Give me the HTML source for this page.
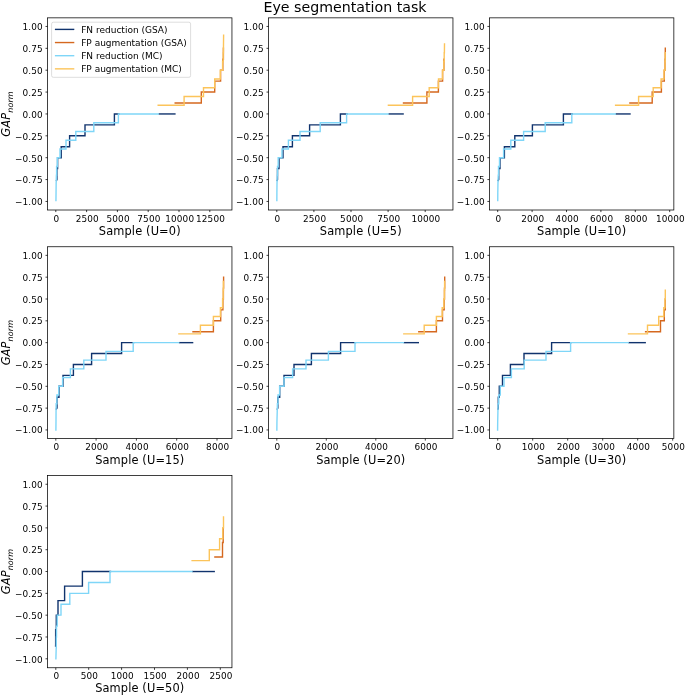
<!DOCTYPE html>
<html lang="en"><head><meta charset="utf-8"><title>Eye segmentation task</title>
<style>html,body{margin:0;padding:0;background:#fff;}body{width:685px;height:696px;overflow:hidden;}svg{display:block;}text{font-family:"DejaVu Sans", "Liberation Sans", sans-serif;fill:#000;}
.tk{font-size:8.9px;}.lab{font-size:11.4px;}.ttl{font-size:14.2px;}.leg{font-size:9.0px;}
.sp{fill:none;stroke:#000;stroke-width:0.75;}.t{stroke:#000;stroke-width:0.75;}.tk{letter-spacing:0.15px;}.lab{letter-spacing:0.13px;}.c{fill:none;stroke-width:1.4;stroke-linejoin:miter;stroke-linecap:square;}
</style></head><body>
<svg width="685" height="696" viewBox="0 0 685 696">
<rect width="685" height="696" fill="#fff"/>
<text class="ttl" x="345.05" y="12.15" text-anchor="middle">Eye segmentation task</text>
<g>
<polyline class="c" stroke="#10336d" points="56.5,180.45 56.9,179.57 56.9,168.64 57.6,168.64 57.6,157.7 61.2,157.7 61.2,146.76 69.6,146.76 69.6,135.82 85,135.82 85,124.89 114.4,124.89 114.4,113.95 118.9,113.95"/>
<polyline class="c" stroke="#10336d" points="159.2,113.95 174.9,113.95"/>
<polyline class="c" stroke="#d5681f" points="175.2,103.01 201.3,103.01 201.3,92.07 214.7,92.07 214.7,81.14 220.6,81.14 220.6,70.2 222.8,70.2 222.8,59.26 223.4,59.26 223.4,48.32"/>
<polyline class="c" stroke="#7fd6f8" points="55.95,200.57 56.05,192.7 56.15,183.95 56.4,175.2 56.6,175.2 56.6,166.45 57.3,166.45 57.3,157.7 60,157.7 60,148.95 66,148.95 66,140.2 75.8,140.2 75.8,131.45 93.8,131.45 93.8,122.7 118.4,122.7 118.4,113.95 158.3,113.95"/>
<polyline class="c" stroke="#fcc45a" points="158.2,105.2 184.1,105.2 184.1,96.45 203.5,96.45 203.5,87.7 214.7,87.7 214.7,78.95 220.3,78.95 220.3,70.2 222.6,70.2 222.6,61.45 223.2,61.45 223.2,52.7 223.4,52.7 223.5,43.95 223.6,35.2"/>
<rect class="sp" x="47.6" y="17.85" width="184.35" height="192.15"/>
<line class="t" x1="45.5" x2="47.6" y1="26.45" y2="26.45"/>
<text class="tk" x="42.9" y="30.35" text-anchor="end">1.00</text>
<line class="t" x1="45.5" x2="47.6" y1="48.32" y2="48.32"/>
<text class="tk" x="42.9" y="52.22" text-anchor="end">0.75</text>
<line class="t" x1="45.5" x2="47.6" y1="70.2" y2="70.2"/>
<text class="tk" x="42.9" y="74.1" text-anchor="end">0.50</text>
<line class="t" x1="45.5" x2="47.6" y1="92.07" y2="92.07"/>
<text class="tk" x="42.9" y="95.97" text-anchor="end">0.25</text>
<line class="t" x1="45.5" x2="47.6" y1="113.95" y2="113.95"/>
<text class="tk" x="42.9" y="117.85" text-anchor="end">0.00</text>
<line class="t" x1="45.5" x2="47.6" y1="135.82" y2="135.82"/>
<text class="tk" x="42.9" y="139.72" text-anchor="end">−0.25</text>
<line class="t" x1="45.5" x2="47.6" y1="157.7" y2="157.7"/>
<text class="tk" x="42.9" y="161.6" text-anchor="end">−0.50</text>
<line class="t" x1="45.5" x2="47.6" y1="179.57" y2="179.57"/>
<text class="tk" x="42.9" y="183.47" text-anchor="end">−0.75</text>
<line class="t" x1="45.5" x2="47.6" y1="201.45" y2="201.45"/>
<text class="tk" x="42.9" y="205.35" text-anchor="end">−1.00</text>
<line class="t" x1="55.8" x2="55.8" y1="210" y2="212.1"/>
<text class="tk" x="56.5" y="221.6" text-anchor="middle">0</text>
<line class="t" x1="86.6" x2="86.6" y1="210" y2="212.1"/>
<text class="tk" x="87.3" y="221.6" text-anchor="middle">2500</text>
<line class="t" x1="117.4" x2="117.4" y1="210" y2="212.1"/>
<text class="tk" x="118.1" y="221.6" text-anchor="middle">5000</text>
<line class="t" x1="148.2" x2="148.2" y1="210" y2="212.1"/>
<text class="tk" x="148.9" y="221.6" text-anchor="middle">7500</text>
<line class="t" x1="179" x2="179" y1="210" y2="212.1"/>
<text class="tk" x="179.7" y="221.6" text-anchor="middle">10000</text>
<line class="t" x1="209.8" x2="209.8" y1="210" y2="212.1"/>
<text class="tk" x="210.5" y="221.6" text-anchor="middle">12500</text>
<text class="lab" x="139.78" y="234.8" text-anchor="middle">Sample (U=0)</text>
<text class="lab" font-style="italic" text-anchor="middle" transform="translate(10.3,113.95) rotate(-90)">GAP<tspan font-size="7.98px" dy="2.2">norm</tspan></text>
</g>
<g>
<polyline class="c" stroke="#10336d" points="277.2,180.45 277.5,179.57 277.5,168.64 279,168.64 279,157.7 283,157.7 283,146.76 292.4,146.76 292.4,135.82 309.6,135.82 309.6,124.89 340.4,124.89 340.4,113.95 347.1,113.95"/>
<polyline class="c" stroke="#10336d" points="389,113.95 403.1,113.95"/>
<polyline class="c" stroke="#d5681f" points="403.5,103.01 426.9,103.01 426.9,92.07 438.4,92.07 438.4,81.14 442.6,81.14 442.6,70.2 443.9,70.2 443.9,59.26"/>
<polyline class="c" stroke="#7fd6f8" points="276.85,200.57 276.9,192.7 277,183.95 277.25,175.2 277.5,175.2 277.5,166.45 278.2,166.45 278.2,157.7 282,157.7 282,148.95 288.4,148.95 288.4,140.2 300,140.2 300,131.45 320.2,131.45 320.2,122.7 346.6,122.7 346.6,113.95 388.1,113.95"/>
<polyline class="c" stroke="#fcc45a" points="388.4,105.2 412.6,105.2 412.6,96.45 429.2,96.45 429.2,87.7 438.5,87.7 438.5,78.95 442.5,78.95 442.5,70.2 443.8,70.2 443.8,61.45 444.2,61.45 444.2,52.7 444.4,52.7 444.5,43.95"/>
<rect class="sp" x="268.6" y="17.85" width="184.35" height="192.15"/>
<line class="t" x1="266.5" x2="268.6" y1="26.45" y2="26.45"/>
<text class="tk" x="263.9" y="30.35" text-anchor="end">1.00</text>
<line class="t" x1="266.5" x2="268.6" y1="48.32" y2="48.32"/>
<text class="tk" x="263.9" y="52.22" text-anchor="end">0.75</text>
<line class="t" x1="266.5" x2="268.6" y1="70.2" y2="70.2"/>
<text class="tk" x="263.9" y="74.1" text-anchor="end">0.50</text>
<line class="t" x1="266.5" x2="268.6" y1="92.07" y2="92.07"/>
<text class="tk" x="263.9" y="95.97" text-anchor="end">0.25</text>
<line class="t" x1="266.5" x2="268.6" y1="113.95" y2="113.95"/>
<text class="tk" x="263.9" y="117.85" text-anchor="end">0.00</text>
<line class="t" x1="266.5" x2="268.6" y1="135.82" y2="135.82"/>
<text class="tk" x="263.9" y="139.72" text-anchor="end">−0.25</text>
<line class="t" x1="266.5" x2="268.6" y1="157.7" y2="157.7"/>
<text class="tk" x="263.9" y="161.6" text-anchor="end">−0.50</text>
<line class="t" x1="266.5" x2="268.6" y1="179.57" y2="179.57"/>
<text class="tk" x="263.9" y="183.47" text-anchor="end">−0.75</text>
<line class="t" x1="266.5" x2="268.6" y1="201.45" y2="201.45"/>
<text class="tk" x="263.9" y="205.35" text-anchor="end">−1.00</text>
<line class="t" x1="276.8" x2="276.8" y1="210" y2="212.1"/>
<text class="tk" x="277.5" y="221.6" text-anchor="middle">0</text>
<line class="t" x1="313.9" x2="313.9" y1="210" y2="212.1"/>
<text class="tk" x="314.6" y="221.6" text-anchor="middle">2500</text>
<line class="t" x1="351" x2="351" y1="210" y2="212.1"/>
<text class="tk" x="351.7" y="221.6" text-anchor="middle">5000</text>
<line class="t" x1="388.1" x2="388.1" y1="210" y2="212.1"/>
<text class="tk" x="388.8" y="221.6" text-anchor="middle">7500</text>
<line class="t" x1="425.2" x2="425.2" y1="210" y2="212.1"/>
<text class="tk" x="425.9" y="221.6" text-anchor="middle">10000</text>
<text class="lab" x="360.78" y="234.8" text-anchor="middle">Sample (U=5)</text>
</g>
<g>
<polyline class="c" stroke="#10336d" points="498.2,180.45 498.7,179.57 498.7,168.64 500,168.64 500,157.7 504.4,157.7 504.4,146.76 514.8,146.76 514.8,135.82 532.4,135.82 532.4,124.89 563.4,124.89 563.4,113.95 572.3,113.95"/>
<polyline class="c" stroke="#10336d" points="616.2,113.95 630,113.95"/>
<polyline class="c" stroke="#d5681f" points="629.9,103.01 652.2,103.01 652.2,92.07 661.4,92.07 661.4,81.14 664.3,81.14 664.3,70.2 665,70.2 665,59.26 665.3,59.26 665.3,48.32"/>
<polyline class="c" stroke="#7fd6f8" points="497.75,200.57 497.8,192.7 497.95,183.95 498.25,175.2 498.5,175.2 498.5,166.45 499.5,166.45 499.5,157.7 503.6,157.7 503.6,148.95 510.8,148.95 510.8,140.2 523.6,140.2 523.6,131.45 545.2,131.45 545.2,122.7 571.8,122.7 571.8,113.95 615.3,113.95"/>
<polyline class="c" stroke="#fcc45a" points="615.6,105.2 638.6,105.2 638.6,96.45 653.2,96.45 653.2,87.7 661.1,87.7 661.1,78.95 664,78.95 664,70.2 665,70.2 665,61.45 665.2,61.45 665.2,52.7"/>
<rect class="sp" x="489.5" y="17.85" width="184.35" height="192.15"/>
<line class="t" x1="487.4" x2="489.5" y1="26.45" y2="26.45"/>
<text class="tk" x="484.8" y="30.35" text-anchor="end">1.00</text>
<line class="t" x1="487.4" x2="489.5" y1="48.32" y2="48.32"/>
<text class="tk" x="484.8" y="52.22" text-anchor="end">0.75</text>
<line class="t" x1="487.4" x2="489.5" y1="70.2" y2="70.2"/>
<text class="tk" x="484.8" y="74.1" text-anchor="end">0.50</text>
<line class="t" x1="487.4" x2="489.5" y1="92.07" y2="92.07"/>
<text class="tk" x="484.8" y="95.97" text-anchor="end">0.25</text>
<line class="t" x1="487.4" x2="489.5" y1="113.95" y2="113.95"/>
<text class="tk" x="484.8" y="117.85" text-anchor="end">0.00</text>
<line class="t" x1="487.4" x2="489.5" y1="135.82" y2="135.82"/>
<text class="tk" x="484.8" y="139.72" text-anchor="end">−0.25</text>
<line class="t" x1="487.4" x2="489.5" y1="157.7" y2="157.7"/>
<text class="tk" x="484.8" y="161.6" text-anchor="end">−0.50</text>
<line class="t" x1="487.4" x2="489.5" y1="179.57" y2="179.57"/>
<text class="tk" x="484.8" y="183.47" text-anchor="end">−0.75</text>
<line class="t" x1="487.4" x2="489.5" y1="201.45" y2="201.45"/>
<text class="tk" x="484.8" y="205.35" text-anchor="end">−1.00</text>
<line class="t" x1="497.7" x2="497.7" y1="210" y2="212.1"/>
<text class="tk" x="498.4" y="221.6" text-anchor="middle">0</text>
<line class="t" x1="532.1" x2="532.1" y1="210" y2="212.1"/>
<text class="tk" x="532.8" y="221.6" text-anchor="middle">2000</text>
<line class="t" x1="566.5" x2="566.5" y1="210" y2="212.1"/>
<text class="tk" x="567.2" y="221.6" text-anchor="middle">4000</text>
<line class="t" x1="600.9" x2="600.9" y1="210" y2="212.1"/>
<text class="tk" x="601.6" y="221.6" text-anchor="middle">6000</text>
<line class="t" x1="635.3" x2="635.3" y1="210" y2="212.1"/>
<text class="tk" x="636" y="221.6" text-anchor="middle">8000</text>
<line class="t" x1="669.7" x2="669.7" y1="210" y2="212.1"/>
<text class="tk" x="670.4" y="221.6" text-anchor="middle">10000</text>
<text class="lab" x="581.67" y="234.8" text-anchor="middle">Sample (U=10)</text>
</g>
<g>
<polyline class="c" stroke="#10336d" points="56.4,409 57,408.12 57,397.21 59,397.21 59,386.3 63,386.3 63,375.39 73.4,375.39 73.4,364.47 91.6,364.47 91.6,353.56 121.6,353.56 121.6,342.65 133.7,342.65"/>
<polyline class="c" stroke="#10336d" points="179.6,342.65 192.6,342.65"/>
<polyline class="c" stroke="#d5681f" points="193,331.74 213.4,331.74 213.4,320.82 220.7,320.82 220.7,309.91 222.9,309.91 222.9,299 223.4,299 223.4,288.09 223.6,288.09 223.6,277.17"/>
<polyline class="c" stroke="#7fd6f8" points="55.9,429.95 56,421.22 56.05,412.49 56.15,403.76 56.9,403.76 56.9,395.03 58.7,395.03 58.7,386.3 62.6,386.3 62.6,377.57 70.4,377.57 70.4,368.84 83.8,368.84 83.8,360.11 106,360.11 106,351.38 133.2,351.38 133.2,342.65 178.7,342.65"/>
<polyline class="c" stroke="#fcc45a" points="178.9,333.92 200.4,333.92 200.4,325.19 213.4,325.19 213.4,316.46 220.4,316.46 220.4,307.73 222.6,307.73 222.6,299 223.2,299 223.2,290.27 223.4,290.27 223.4,281.54"/>
<rect class="sp" x="47.6" y="246.75" width="184.35" height="191.75"/>
<line class="t" x1="45.5" x2="47.6" y1="255.35" y2="255.35"/>
<text class="tk" x="42.9" y="258.85" text-anchor="end">1.00</text>
<line class="t" x1="45.5" x2="47.6" y1="277.17" y2="277.17"/>
<text class="tk" x="42.9" y="280.67" text-anchor="end">0.75</text>
<line class="t" x1="45.5" x2="47.6" y1="299" y2="299"/>
<text class="tk" x="42.9" y="302.5" text-anchor="end">0.50</text>
<line class="t" x1="45.5" x2="47.6" y1="320.82" y2="320.82"/>
<text class="tk" x="42.9" y="324.32" text-anchor="end">0.25</text>
<line class="t" x1="45.5" x2="47.6" y1="342.65" y2="342.65"/>
<text class="tk" x="42.9" y="346.15" text-anchor="end">0.00</text>
<line class="t" x1="45.5" x2="47.6" y1="364.47" y2="364.47"/>
<text class="tk" x="42.9" y="367.97" text-anchor="end">−0.25</text>
<line class="t" x1="45.5" x2="47.6" y1="386.3" y2="386.3"/>
<text class="tk" x="42.9" y="389.8" text-anchor="end">−0.50</text>
<line class="t" x1="45.5" x2="47.6" y1="408.12" y2="408.12"/>
<text class="tk" x="42.9" y="411.62" text-anchor="end">−0.75</text>
<line class="t" x1="45.5" x2="47.6" y1="429.95" y2="429.95"/>
<text class="tk" x="42.9" y="433.45" text-anchor="end">−1.00</text>
<line class="t" x1="55.8" x2="55.8" y1="438.5" y2="440.6"/>
<text class="tk" x="56.5" y="450.1" text-anchor="middle">0</text>
<line class="t" x1="96.1" x2="96.1" y1="438.5" y2="440.6"/>
<text class="tk" x="96.8" y="450.1" text-anchor="middle">2000</text>
<line class="t" x1="136.4" x2="136.4" y1="438.5" y2="440.6"/>
<text class="tk" x="137.1" y="450.1" text-anchor="middle">4000</text>
<line class="t" x1="176.7" x2="176.7" y1="438.5" y2="440.6"/>
<text class="tk" x="177.4" y="450.1" text-anchor="middle">6000</text>
<line class="t" x1="217" x2="217" y1="438.5" y2="440.6"/>
<text class="tk" x="217.7" y="450.1" text-anchor="middle">8000</text>
<text class="lab" x="139.78" y="463.9" text-anchor="middle">Sample (U=15)</text>
<text class="lab" font-style="italic" text-anchor="middle" transform="translate(10.3,342.65) rotate(-90)">GAP<tspan font-size="7.98px" dy="2.2">norm</tspan></text>
</g>
<g>
<polyline class="c" stroke="#10336d" points="277.3,409 277.8,408.12 277.8,397.21 279.7,397.21 279.7,386.3 284,386.3 284,375.39 294,375.39 294,364.47 311.4,364.47 311.4,353.56 340.6,353.56 340.6,342.65 355.5,342.65"/>
<polyline class="c" stroke="#10336d" points="404.3,342.65 418.3,342.65"/>
<polyline class="c" stroke="#d5681f" points="418.8,331.74 436.4,331.74 436.4,320.82 442.5,320.82 442.5,309.91 444.2,309.91 444.2,299 444.5,299 444.5,288.09 444.7,288.09 444.7,277.17"/>
<polyline class="c" stroke="#7fd6f8" points="276.85,429.95 276.95,421.22 277.2,412.49 277.4,403.76 278,403.76 278,395.03 279.6,395.03 279.6,386.3 284,386.3 284,377.57 292.6,377.57 292.6,368.84 306,368.84 306,360.11 328.4,360.11 328.4,351.38 355,351.38 355,342.65 403.4,342.65"/>
<polyline class="c" stroke="#fcc45a" points="403.8,333.92 424.2,333.92 424.2,325.19 436.4,325.19 436.4,316.46 442.2,316.46 442.2,307.73 443.9,307.73 443.9,299 444.4,299 444.4,290.27 444.6,290.27 444.6,281.54"/>
<rect class="sp" x="268.6" y="246.75" width="184.35" height="191.75"/>
<line class="t" x1="266.5" x2="268.6" y1="255.35" y2="255.35"/>
<text class="tk" x="263.9" y="258.85" text-anchor="end">1.00</text>
<line class="t" x1="266.5" x2="268.6" y1="277.17" y2="277.17"/>
<text class="tk" x="263.9" y="280.67" text-anchor="end">0.75</text>
<line class="t" x1="266.5" x2="268.6" y1="299" y2="299"/>
<text class="tk" x="263.9" y="302.5" text-anchor="end">0.50</text>
<line class="t" x1="266.5" x2="268.6" y1="320.82" y2="320.82"/>
<text class="tk" x="263.9" y="324.32" text-anchor="end">0.25</text>
<line class="t" x1="266.5" x2="268.6" y1="342.65" y2="342.65"/>
<text class="tk" x="263.9" y="346.15" text-anchor="end">0.00</text>
<line class="t" x1="266.5" x2="268.6" y1="364.47" y2="364.47"/>
<text class="tk" x="263.9" y="367.97" text-anchor="end">−0.25</text>
<line class="t" x1="266.5" x2="268.6" y1="386.3" y2="386.3"/>
<text class="tk" x="263.9" y="389.8" text-anchor="end">−0.50</text>
<line class="t" x1="266.5" x2="268.6" y1="408.12" y2="408.12"/>
<text class="tk" x="263.9" y="411.62" text-anchor="end">−0.75</text>
<line class="t" x1="266.5" x2="268.6" y1="429.95" y2="429.95"/>
<text class="tk" x="263.9" y="433.45" text-anchor="end">−1.00</text>
<line class="t" x1="276.8" x2="276.8" y1="438.5" y2="440.6"/>
<text class="tk" x="277.5" y="450.1" text-anchor="middle">0</text>
<line class="t" x1="326.3" x2="326.3" y1="438.5" y2="440.6"/>
<text class="tk" x="327" y="450.1" text-anchor="middle">2000</text>
<line class="t" x1="375.8" x2="375.8" y1="438.5" y2="440.6"/>
<text class="tk" x="376.5" y="450.1" text-anchor="middle">4000</text>
<line class="t" x1="425.3" x2="425.3" y1="438.5" y2="440.6"/>
<text class="tk" x="426" y="450.1" text-anchor="middle">6000</text>
<text class="lab" x="360.78" y="463.9" text-anchor="middle">Sample (U=20)</text>
</g>
<g>
<polyline class="c" stroke="#10336d" points="498,409 498.3,408.12 498.3,397.21 499.3,397.21 499.3,386.3 502.5,386.3 502.5,375.39 510.4,375.39 510.4,364.47 524,364.47 524,353.56 551.6,353.56 551.6,342.65 571.1,342.65"/>
<polyline class="c" stroke="#10336d" points="629,342.65 645.2,342.65"/>
<polyline class="c" stroke="#d5681f" points="645.6,331.74 660.5,331.74 660.5,320.82 664.3,320.82 664.3,309.91 665.3,309.91 665.3,299"/>
<polyline class="c" stroke="#7fd6f8" points="497.6,429.95 497.7,421.22 497.9,412.49 498.1,403.76 498.75,403.76 498.75,395.03 500.3,395.03 500.3,386.3 504,386.3 504,377.57 511.4,377.57 511.4,368.84 524.2,368.84 524.2,360.11 546,360.11 546,351.38 570.6,351.38 570.6,342.65 628.1,342.65"/>
<polyline class="c" stroke="#fcc45a" points="628.5,333.92 647.5,333.92 647.5,325.19 658.7,325.19 658.7,316.46 663.8,316.46 663.8,307.73 665,307.73 665,299 665.3,299 665.3,290.27"/>
<rect class="sp" x="489.5" y="246.75" width="184.35" height="191.75"/>
<line class="t" x1="487.4" x2="489.5" y1="255.35" y2="255.35"/>
<text class="tk" x="484.8" y="258.85" text-anchor="end">1.00</text>
<line class="t" x1="487.4" x2="489.5" y1="277.17" y2="277.17"/>
<text class="tk" x="484.8" y="280.67" text-anchor="end">0.75</text>
<line class="t" x1="487.4" x2="489.5" y1="299" y2="299"/>
<text class="tk" x="484.8" y="302.5" text-anchor="end">0.50</text>
<line class="t" x1="487.4" x2="489.5" y1="320.82" y2="320.82"/>
<text class="tk" x="484.8" y="324.32" text-anchor="end">0.25</text>
<line class="t" x1="487.4" x2="489.5" y1="342.65" y2="342.65"/>
<text class="tk" x="484.8" y="346.15" text-anchor="end">0.00</text>
<line class="t" x1="487.4" x2="489.5" y1="364.47" y2="364.47"/>
<text class="tk" x="484.8" y="367.97" text-anchor="end">−0.25</text>
<line class="t" x1="487.4" x2="489.5" y1="386.3" y2="386.3"/>
<text class="tk" x="484.8" y="389.8" text-anchor="end">−0.50</text>
<line class="t" x1="487.4" x2="489.5" y1="408.12" y2="408.12"/>
<text class="tk" x="484.8" y="411.62" text-anchor="end">−0.75</text>
<line class="t" x1="487.4" x2="489.5" y1="429.95" y2="429.95"/>
<text class="tk" x="484.8" y="433.45" text-anchor="end">−1.00</text>
<line class="t" x1="497.7" x2="497.7" y1="438.5" y2="440.6"/>
<text class="tk" x="498.4" y="450.1" text-anchor="middle">0</text>
<line class="t" x1="532.7" x2="532.7" y1="438.5" y2="440.6"/>
<text class="tk" x="533.4" y="450.1" text-anchor="middle">1000</text>
<line class="t" x1="567.7" x2="567.7" y1="438.5" y2="440.6"/>
<text class="tk" x="568.4" y="450.1" text-anchor="middle">2000</text>
<line class="t" x1="602.7" x2="602.7" y1="438.5" y2="440.6"/>
<text class="tk" x="603.4" y="450.1" text-anchor="middle">3000</text>
<line class="t" x1="637.7" x2="637.7" y1="438.5" y2="440.6"/>
<text class="tk" x="638.4" y="450.1" text-anchor="middle">4000</text>
<line class="t" x1="672.7" x2="672.7" y1="438.5" y2="440.6"/>
<text class="tk" x="673.4" y="450.1" text-anchor="middle">5000</text>
<text class="lab" x="581.67" y="463.9" text-anchor="middle">Sample (U=30)</text>
</g>
<g>
<polyline class="c" stroke="#10336d" points="55.6,646.15 55.65,644.26 55.65,644.26 55.65,629.72 56.3,629.72 56.3,615.17 58,615.17 58,600.62 64.6,600.62 64.6,586.08 82.4,586.08 82.4,571.53 110.5,571.53"/>
<polyline class="c" stroke="#10336d" points="192.8,571.53 214.2,571.53"/>
<polyline class="c" stroke="#d5681f" points="214.9,556.98 222.5,556.98 222.5,542.44 223.2,542.44 223.2,527.89"/>
<polyline class="c" stroke="#7fd6f8" points="55.9,658.81 56.2,647.9 56.3,647.9 56.3,636.99 56.5,636.99 56.5,626.08 57.2,626.08 57.2,615.17 61,615.17 61,604.26 69.8,604.26 69.8,593.35 88.6,593.35 88.6,582.44 110,582.44 110,571.53 191.9,571.53"/>
<polyline class="c" stroke="#fcc45a" points="192.1,560.62 209.3,560.62 209.3,549.71 219.6,549.71 219.6,538.8 222.8,538.8 222.8,527.89 223.5,527.89 223.5,516.98"/>
<rect class="sp" x="47.6" y="475.55" width="184.35" height="192.2"/>
<line class="t" x1="45.5" x2="47.6" y1="484.25" y2="484.25"/>
<text class="tk" x="42.9" y="487.95" text-anchor="end">1.00</text>
<line class="t" x1="45.5" x2="47.6" y1="506.07" y2="506.07"/>
<text class="tk" x="42.9" y="509.77" text-anchor="end">0.75</text>
<line class="t" x1="45.5" x2="47.6" y1="527.89" y2="527.89"/>
<text class="tk" x="42.9" y="531.59" text-anchor="end">0.50</text>
<line class="t" x1="45.5" x2="47.6" y1="549.71" y2="549.71"/>
<text class="tk" x="42.9" y="553.41" text-anchor="end">0.25</text>
<line class="t" x1="45.5" x2="47.6" y1="571.53" y2="571.53"/>
<text class="tk" x="42.9" y="575.23" text-anchor="end">0.00</text>
<line class="t" x1="45.5" x2="47.6" y1="593.35" y2="593.35"/>
<text class="tk" x="42.9" y="597.05" text-anchor="end">−0.25</text>
<line class="t" x1="45.5" x2="47.6" y1="615.17" y2="615.17"/>
<text class="tk" x="42.9" y="618.87" text-anchor="end">−0.50</text>
<line class="t" x1="45.5" x2="47.6" y1="636.99" y2="636.99"/>
<text class="tk" x="42.9" y="640.69" text-anchor="end">−0.75</text>
<line class="t" x1="45.5" x2="47.6" y1="658.81" y2="658.81"/>
<text class="tk" x="42.9" y="662.51" text-anchor="end">−1.00</text>
<line class="t" x1="55.8" x2="55.8" y1="667.75" y2="669.85"/>
<text class="tk" x="56.5" y="679.35" text-anchor="middle">0</text>
<line class="t" x1="88.7" x2="88.7" y1="667.75" y2="669.85"/>
<text class="tk" x="89.4" y="679.35" text-anchor="middle">500</text>
<line class="t" x1="121.6" x2="121.6" y1="667.75" y2="669.85"/>
<text class="tk" x="122.3" y="679.35" text-anchor="middle">1000</text>
<line class="t" x1="154.5" x2="154.5" y1="667.75" y2="669.85"/>
<text class="tk" x="155.2" y="679.35" text-anchor="middle">1500</text>
<line class="t" x1="187.4" x2="187.4" y1="667.75" y2="669.85"/>
<text class="tk" x="188.1" y="679.35" text-anchor="middle">2000</text>
<line class="t" x1="220.3" x2="220.3" y1="667.75" y2="669.85"/>
<text class="tk" x="221" y="679.35" text-anchor="middle">2500</text>
<text class="lab" x="139.78" y="692.05" text-anchor="middle">Sample (U=50)</text>
<text class="lab" font-style="italic" text-anchor="middle" transform="translate(10.3,571.53) rotate(-90)">GAP<tspan font-size="7.98px" dy="2.2">norm</tspan></text>
</g>
<g>
<rect x="51.6" y="22.2" width="139.0" height="55.1" rx="1.7" ry="1.7" fill="#fff" fill-opacity="0.8" stroke="#ccc" stroke-opacity="0.8" stroke-width="0.85"/>
<line x1="54.9" x2="74.3" y1="29.4" y2="29.4" stroke="#10336d" stroke-width="1.4"/>
<text class="leg" x="81.2" y="32.5">FN reduction (GSA)</text>
<line x1="54.9" x2="74.3" y1="42.55" y2="42.55" stroke="#d5681f" stroke-width="1.4"/>
<text class="leg" x="81.2" y="45.65">FP augmentation (GSA)</text>
<line x1="54.9" x2="74.3" y1="55.7" y2="55.7" stroke="#7fd6f8" stroke-width="1.4"/>
<text class="leg" x="81.2" y="58.8">FN reduction (MC)</text>
<line x1="54.9" x2="74.3" y1="68.85" y2="68.85" stroke="#fcc45a" stroke-width="1.4"/>
<text class="leg" x="81.2" y="71.95">FP augmentation (MC)</text>
</g>
</svg></body></html>
